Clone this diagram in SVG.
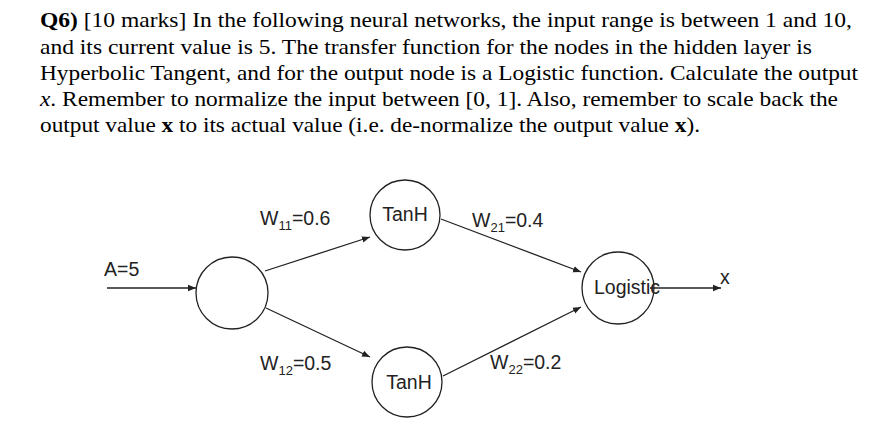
<svg xmlns="http://www.w3.org/2000/svg" width="890" height="428" viewBox="0 0 890 428">
<style>
.q{font-family:"Liberation Serif",serif;font-size:21px;fill:#000}
.d{font-family:"Liberation Sans",Arial,sans-serif;font-size:19.5px;fill:#222}
.s{font-size:13px}
circle{fill:#fff;stroke:#222;stroke-width:1.3}
.e{stroke:#222;stroke-width:1.3;fill:none;marker-end:url(#a)}
</style>
<defs><marker id="a" viewBox="0 0 10 10" refX="10" refY="5" markerWidth="8" markerHeight="8" markerUnits="userSpaceOnUse" orient="auto"><path d="M0,1 L10,5 L0,9 z" fill="#222"/></marker></defs>
<rect width="890" height="428" fill="#fff"/>
<g id="question">
<text class="q" x="40" y="27" textLength="812" lengthAdjust="spacingAndGlyphs"><tspan font-weight="bold">Q6)</tspan> [10 marks]  In the following neural networks, the input range is between 1 and 10,</text>
<text class="q" x="40" y="54" textLength="772" lengthAdjust="spacingAndGlyphs">and its current value is 5. The transfer function for the nodes in the hidden layer is</text>
<text class="q" x="40" y="80" textLength="818" lengthAdjust="spacingAndGlyphs">Hyperbolic Tangent, and for the output node is a Logistic function. Calculate the output</text>
<text class="q" x="40" y="106" textLength="798" lengthAdjust="spacingAndGlyphs"><tspan font-style="italic">x</tspan>. Remember to normalize the input between [0, 1]. Also, remember to scale back the</text>
<text class="q" x="40" y="132" textLength="660" lengthAdjust="spacingAndGlyphs">output value <tspan font-weight="bold">x</tspan> to its actual value (i.e. de-normalize the output value <tspan font-weight="bold">x</tspan>).</text>
</g>
<g id="input"><circle cx="232" cy="293" r="36"/><text class="d" x="104" y="276">A=5</text></g>
<g id="h1"><circle cx="405" cy="215" r="35"/><text class="d" x="405" y="221" text-anchor="middle">TanH</text></g>
<g id="h2"><circle cx="407" cy="382" r="35"/><text class="d" x="409" y="389" text-anchor="middle">TanH</text></g>
<g id="out"><circle cx="618" cy="288" r="36"/><text class="d" x="594" y="294">Logistic</text><text class="d" x="720" y="284">x</text></g>
<g id="connectors">
<line class="e" x1="107" y1="288" x2="196" y2="288"/>
<line class="e" x1="265" y1="271" x2="370" y2="237"/>
<line class="e" x1="266" y1="308" x2="370" y2="357"/>
<line class="e" x1="441" y1="219" x2="581" y2="272"/>
<line class="e" x1="443" y1="376" x2="581" y2="307"/>
<line class="e" x1="650" y1="288" x2="721" y2="288"/>
</g>
<g id="labels">
<text class="d" x="260" y="225">W<tspan class="s" dy="5">11</tspan><tspan dy="-5">=0.6</tspan></text>
<text class="d" x="260" y="370">W<tspan class="s" dy="5">12</tspan><tspan dy="-5">=0.5</tspan></text>
<text class="d" x="472" y="227">W<tspan class="s" dy="5">21</tspan><tspan dy="-5">=0.4</tspan></text>
<text class="d" x="490" y="369">W<tspan class="s" dy="5">22</tspan><tspan dy="-5">=0.2</tspan></text>
</g>
</svg>
